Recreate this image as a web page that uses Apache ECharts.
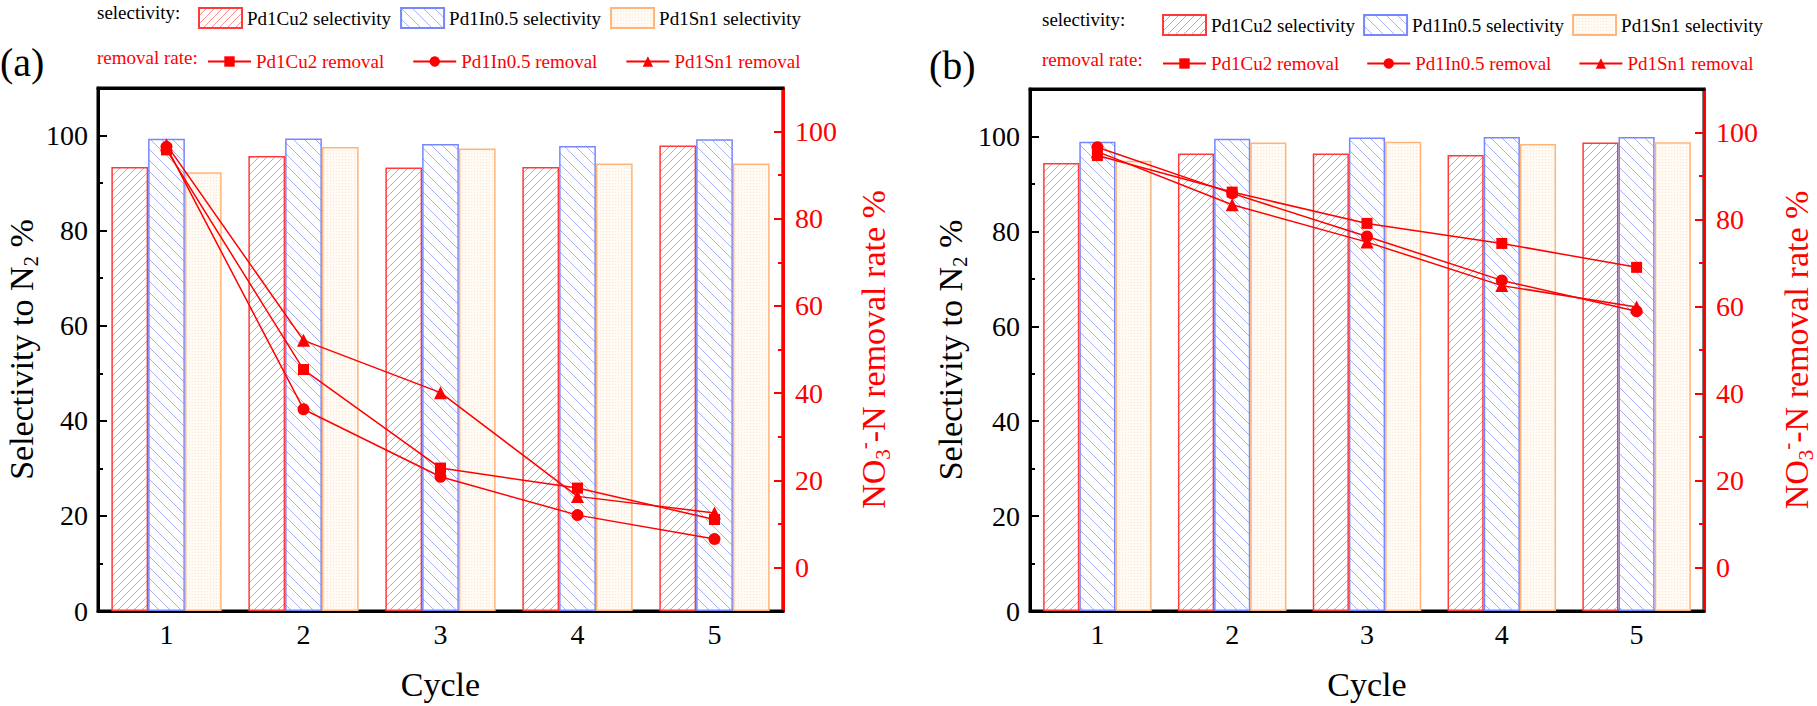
<!DOCTYPE html>
<html>
<head>
<meta charset="utf-8">
<title>Selectivity and removal rate</title>
<script src="https://cdn.jsdelivr.net/npm/echarts@6/dist/echarts.min.js"></script>
<style>
html, body { margin: 0; padding: 0; background: #fff; }
#chart { width: 1817px; height: 706px; }
</style>
</head>
<body>
<div id="chart"></div>
<script>
const cycles = ['1', '2', '3', '4', '5'];
const majorTicks = [0, 20, 40, 60, 80, 100];
const minorTicks = [10, 30, 50, 70, 90];

// panel (a)
const selCuA = [93.4, 95.7, 93.3, 93.4, 97.9];
const selInA = [99.3, 99.4, 98.2, 97.8, 99.2];
const selSnA = [92.3, 97.6, 97.3, 94.1, 94.1];
const remCuA = [95.8, 45.4, 22.8, 18.2, 11.0];
const remInA = [96.5, 36.3, 20.8, 12.0, 6.5];
const remSnA = [97.0, 52.1, 40.1, 16.3, 12.5];

// panel (b)
const selCuB = [94.4, 96.4, 96.4, 96.1, 98.7];
const selInB = [98.9, 99.5, 99.8, 99.9, 99.9];
const selSnB = [94.9, 98.7, 98.9, 98.4, 98.8];
const remCuB = [94.7, 86.3, 79.1, 74.5, 69.0];
const remInB = [96.6, 86.0, 76.1, 66.0, 58.9];
const remSnB = [95.6, 83.4, 74.8, 64.8, 59.9];

const barNames = ['Pd1Cu2 selectivity', 'Pd1In0.5 selectivity', 'Pd1Sn1 selectivity'];
const lineNames = ['Pd1Cu2 removal', 'Pd1In0.5 removal', 'Pd1Sn1 removal'];

const FONT = 'Liberation Serif';
const RED = '#ff0000';

// hatch tiles for the bars
function hatch(lineColor, size, slash, lw) {
    const c = document.createElement('canvas');
    c.width = c.height = size;
    const ctx = c.getContext('2d');
    ctx.fillStyle = '#fff';
    ctx.fillRect(0, 0, size, size);
    ctx.strokeStyle = lineColor;
    ctx.lineWidth = lw;
    ctx.beginPath();
    if (slash) {
        ctx.moveTo(0, size); ctx.lineTo(size, 0);
        ctx.moveTo(-size / 2, size / 2); ctx.lineTo(size / 2, -size / 2);
        ctx.moveTo(size / 2, size * 1.5); ctx.lineTo(size * 1.5, size / 2);
    } else {
        ctx.moveTo(0, 0); ctx.lineTo(size, size);
        ctx.moveTo(-size / 2, size / 2); ctx.lineTo(size / 2, size * 1.5);
        ctx.moveTo(size / 2, -size / 2); ctx.lineTo(size * 1.5, size / 2);
    }
    ctx.stroke();
    return c;
}
function dots() {
    const c = document.createElement('canvas');
    c.width = c.height = 3;
    const ctx = c.getContext('2d');
    ctx.fillStyle = '#fffaf4';
    ctx.fillRect(0, 0, 3, 3);
    ctx.fillStyle = '#fbe6d3';
    ctx.fillRect(0, 0, 1, 1);
    return c;
}

const barStyles = [
    { color: { image: hatch('#ff9090', 8, true, 1), repeat: 'repeat' }, borderColor: '#ff3a3a', borderWidth: 1.5 },
    { color: { image: hatch('#a8b0f4', 11, false, 1), repeat: 'repeat' }, borderColor: '#7686ff', borderWidth: 1.5 },
    { color: { image: dots(), repeat: 'repeat' }, borderColor: '#ffb57a', borderWidth: 1.5 }
];
const symbols = [['rect', 11], ['circle', 12], ['triangle', 13]];

const grids = [
    { left: 98, right: 1817 - 783, top: 88, bottom: 706 - 613, show: true, borderColor: '#000', borderWidth: 3, backgroundColor: 'transparent' },
    { left: 1030, right: 1817 - 1713, top: 89, bottom: 706 - 615, show: true, borderColor: '#000', borderWidth: 3, backgroundColor: 'transparent' }
];
const leftGaps = [57, 60];
const rightGaps = [70, 72];

const xAxes = [], yAxes = [], series = [];

[0, 1].forEach(g => {
    xAxes.push({
        type: 'category', gridIndex: g, data: cycles,
        axisLine: { onZero: false, lineStyle: { color: '#000', width: 3 } },
        axisTick: { show: false },
        axisLabel: { fontSize: 28, color: '#000', fontFamily: FONT, margin: 9 },
        name: 'Cycle', nameLocation: 'middle', nameGap: 56,
        nameTextStyle: { fontSize: 34, color: '#000', fontFamily: FONT }
    });
    xAxes.push({
        type: 'category', gridIndex: g, data: cycles, position: 'top',
        axisLine: { onZero: false, lineStyle: { color: '#000', width: 3 } },
        axisTick: { show: false }, axisLabel: { show: false }
    });

    // left: selectivity
    yAxes.push({
        type: 'value', gridIndex: g, position: 'left', min: 0, max: 110,
        axisLine: { show: true, onZero: false, lineStyle: { color: '#000', width: 3 } },
        axisTick: { show: true, inside: true, length: 9, customValues: majorTicks, lineStyle: { color: '#000', width: 2 } },
        axisLabel: { customValues: majorTicks, fontSize: 28, color: '#000', fontFamily: FONT, margin: 10 },
        splitLine: { show: false },
        name: 'Selectivity to N{sub|2} %', nameLocation: 'middle', nameRotate: 90, nameGap: leftGaps[g],
        nameTextStyle: {
            fontSize: 34, color: '#000', fontFamily: FONT, lineHeight: 40,
            rich: { sub: { fontSize: 21, fontFamily: FONT, color: '#000', lineHeight: 22, verticalAlign: 'bottom' } }
        }
    });
    // right: removal rate
    yAxes.push({
        type: 'value', gridIndex: g, position: 'right', min: -10, max: 110,
        axisLine: { show: true, onZero: false, lineStyle: { color: RED, width: 3 } },
        axisTick: { show: true, inside: true, length: 9, customValues: majorTicks, lineStyle: { color: RED, width: 2 } },
        axisLabel: { customValues: majorTicks, fontSize: 28, color: RED, fontFamily: FONT, margin: 12 },
        splitLine: { show: false },
        name: 'NO{sub|3}{sup|-}-N removal rate %', nameLocation: 'middle', nameRotate: 90, nameGap: rightGaps[g],
        nameTextStyle: {
            fontSize: 34, color: RED, fontFamily: FONT, lineHeight: 40,
            rich: {
                sub: { fontSize: 21, fontFamily: FONT, color: RED, lineHeight: 22, verticalAlign: 'bottom' },
                sup: { fontSize: 21, fontFamily: FONT, color: RED, lineHeight: 22, verticalAlign: 'top' }
            }
        }
    });
    // short ticks between the labelled ones
    yAxes.push({
        type: 'value', gridIndex: g, position: 'left', min: 0, max: 110,
        axisLine: { show: false, onZero: false },
        axisTick: { show: true, inside: true, length: 5, customValues: minorTicks, lineStyle: { color: '#000', width: 2 } },
        axisLabel: { show: false, customValues: minorTicks },
        splitLine: { show: false }
    });
    yAxes.push({
        type: 'value', gridIndex: g, position: 'right', min: -10, max: 110,
        axisLine: { show: false, onZero: false },
        axisTick: { show: true, inside: true, length: 5, customValues: minorTicks, lineStyle: { color: RED, width: 2 } },
        axisLabel: { show: false, customValues: minorTicks },
        splitLine: { show: false }
    });

    const sel = g === 0 ? [selCuA, selInA, selSnA] : [selCuB, selInB, selSnB];
    const rem = g === 0 ? [remCuA, remInA, remSnA] : [remCuB, remInB, remSnB];

    sel.forEach((d, i) => {
        series.push({
            type: 'bar', name: barNames[i], xAxisIndex: g * 2, yAxisIndex: g * 4,
            data: d, barGap: '0%', barCategoryGap: '19.5%',
            itemStyle: barStyles[i], silent: true
        });
    });
    rem.forEach((d, i) => {
        series.push({
            type: 'line', name: lineNames[i], xAxisIndex: g * 2, yAxisIndex: g * 4 + 1,
            data: d, symbol: symbols[i][0], symbolSize: symbols[i][1],
            lineStyle: { color: RED, width: 1.5 }, itemStyle: { color: RED },
            z: 5, silent: true
        });
    });
});

function barLegend(left, top, gap) {
    return {
        left: left, top: top, orient: 'horizontal', data: barNames, icon: 'rect',
        itemWidth: 43, itemHeight: 20, itemGap: gap, selectedMode: false,
        textStyle: { fontSize: 19, color: '#000', fontFamily: FONT }
    };
}
function lineLegend(left, top, gap) {
    return {
        left: left, top: top, orient: 'horizontal', data: lineNames,
        itemWidth: 43, itemHeight: 13, itemGap: gap, selectedMode: false,
        textStyle: { fontSize: 19, color: RED, fontFamily: FONT }
    };
}

function label(text, x, y, size, color) {
    return {
        type: 'text', left: x, top: y,
        style: { text: text, fontSize: size, fill: color, fontFamily: FONT }
    };
}

// svg renderer keeps every text and line style independent
const chart = echarts.init(document.getElementById('chart'), null, { renderer: 'svg' });
chart.setOption({
    animation: false,
    textStyle: { fontFamily: FONT },
    grid: grids,
    xAxis: xAxes,
    yAxis: yAxes,
    legend: [
        barLegend(193, 2, 9),
        lineLegend(202, 47, 28),
        barLegend(1157, 9, 8),
        lineLegend(1157, 49, 27)
    ],
    graphic: [
        label('(a)', 0, 42, 40, '#000'),
        label('selectivity:', 97, 3, 19, '#000'),
        label('removal rate:', 97, 48, 19, RED),
        label('(b)', 929, 45, 40, '#000'),
        label('selectivity:', 1042, 10, 19, '#000'),
        label('removal rate:', 1042, 50, 19, RED)
    ],
    series: series
});
</script>
</body>
</html>
